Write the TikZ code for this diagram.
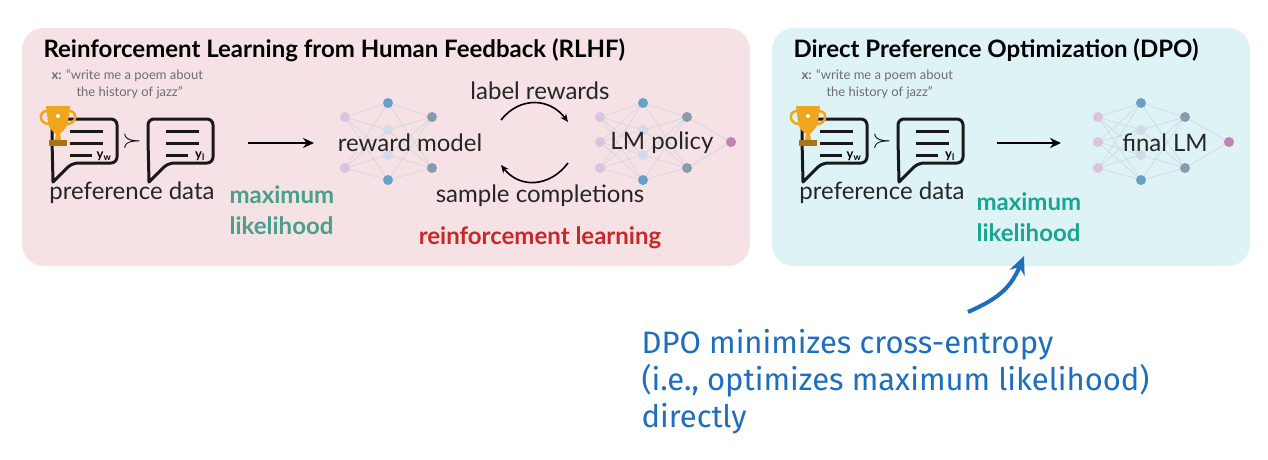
\documentclass[tikz,border=0pt]{standalone}
\usepackage{fontspec}
\setmainfont{Lato}
\newfontfamily\hand{Fira Sans}
\usetikzlibrary{arrows.meta}
\definecolor{rlbg}{RGB}{246,225,228}
\definecolor{dpobg}{RGB}{222,243,245}
\definecolor{teal1}{RGB}{72,160,140}
\definecolor{teal2}{RGB}{24,165,145}
\definecolor{rlred}{RGB}{200,40,40}
\definecolor{nbl}{RGB}{105,160,200}
\definecolor{ngr}{RGB}{135,155,175}
\definecolor{npu}{RGB}{218,195,220}
\definecolor{nli}{RGB}{212,218,232}
\definecolor{nout}{RGB}{195,130,180}
\definecolor{gtxt}{RGB}{110,110,110}
\definecolor{hblue}{RGB}{30,110,190}
\definecolor{troph}{RGB}{240,165,30}
\tikzset{
  box/.style={rounded corners=22pt},
  nd/.style={circle,inner sep=0pt,minimum size=10pt},
  edge/.style={draw=ngr!40,line width=0.6pt},
  bub/.style={line width=3pt,line join=round,draw=black!90},
  ln/.style={line width=3pt,draw=black!90},
  arr/.style={-{Stealth[length=11pt,width=10pt]},line width=2.2pt},
  lbl/.style={font=\fontsize{24}{26}\selectfont,text=black!85},
  small/.style={font=\fontsize{13}{15}\selectfont,text=gtxt,anchor=west},
}
\newcommand\mybubble[3]{% x offset, name, label
  \draw[bub] (#1+72,163) -- (#1+53,182) -- (#1+52,140) [rounded corners=6pt] -- (#1+52,119) -- (#1+117,119) -- (#1+117,163) -- cycle;
  \draw[ln] (#1+70,131) -- (#1+103,131);
  \draw[ln] (#1+70,143) -- (#1+103,143);
  \draw[ln] (#1+70,155) -- (#1+92,155);
  \node[font=\fontsize{13}{13}\selectfont\bfseries,inner sep=0pt] (#2) at (#1+104,156) {#3};
}
\newcommand\mytrophy[1]{%
  \begin{scope}[xshift=#1pt+6pt]
  \fill[troph] (40,106) -- (64,106) -- (62,122) .. controls (60,130) and (55,132) .. (54,134) -- (55,140) -- (49,140) -- (50,134) .. controls (48,132) and (43,130) .. (42,122) -- cycle;
  \draw[troph,line width=2.5pt] (41,111) .. controls (32,111) and (33,124) .. (43,124);
  \draw[troph,line width=2.5pt] (63,111) .. controls (72,111) and (71,124) .. (61,124);
  \fill[troph!70!black] (43,140) rectangle (61,146);
  \fill[white] (52,116) circle (2pt);
  \end{scope}
}
\begin{document}
\begin{tikzpicture}[x=1pt,y=-1pt]
\useasboundingbox (0,0) rectangle (1268,460);
\fill[white] (0,0) rectangle (1268,460);
% boxes
\fill[rlbg,box] (22,28) rectangle (750,266);
\fill[dpobg,box] (772,28) rectangle (1250,266);
\node[anchor=west,font=\fontsize{24}{26}\selectfont\bfseries] (t1) at (40,50) {Reinforcement Learning from Human Feedback (RLHF)};
\node[anchor=west,font=\fontsize{24}{26}\selectfont\bfseries] (t2) at (790,50) {Direct Preference Optimization (DPO)};
% prompts
\node[small] (x1) at (48,76) {\textbf{x:} ``write me a poem about};
\node[small] (x1b) at (73,93) {the history of jazz''};
\node[small] (x2) at (798,76) {\textbf{x:} ``write me a poem about};
\node[small] (x2b) at (823,93) {the history of jazz''};
% bubbles
\mybubble{0}{yw1}{y\textsubscript{w}}
\mybubble{96}{yl1}{y\textsubscript{l}}
\mybubble{750}{yw2}{y\textsubscript{w}}
\mybubble{846}{yl2}{y\textsubscript{l}}
\mytrophy{0}
\mytrophy{750}
\node[font=\fontsize{30}{30}\selectfont] (gt1) at (132,141) {$\succ$};
\node[font=\fontsize{30}{30}\selectfont] (gt2) at (882,141) {$\succ$};
% networks
\foreach \ox/\hasout/\nl in {0/0/2,255/1/3,753/1/3}{
  \begin{scope}[xshift=\ox pt]
  \ifnum\nl=3
    \foreach \a in {117,142,168} \foreach \b in {103,130,155,180} \draw[edge] (345,\a) -- (388,\b);
  \else
    \foreach \a in {117,168} \foreach \b in {103,130,155,180} \draw[edge] (345,\a) -- (388,\b);
  \fi
  \foreach \a in {103,130,155,180} \foreach \b in {117,168} \draw[edge] (388,\a) -- (432,\b);
  \ifnum\hasout=1
    \foreach \a in {117,168} \draw[edge] (432,\a) -- (476,142);
    \node[nd,fill=nout] at (476,142) {};
  \fi
  \node[nd,fill=npu] at (345,117) {};
  \node[nd,fill=npu] at (345,168) {};
  \ifnum\nl=3 \node[nd,fill=npu] at (345,142) {}; \fi
  \node[nd,fill=nbl] at (388,103) {};
  \node[nd,fill=nli] at (388,130) {};
  \node[nd,fill=nli] at (388,155) {};
  \node[nd,fill=nbl] at (388,180) {};
  \node[nd,fill=ngr] at (432,117) {};
  \node[nd,fill=ngr] at (432,168) {};
  \end{scope}
}
\node[lbl] (rm) at (410,143) {reward model};
\node[lbl] (lm) at (662,143) {LM policy};
\node[lbl] (flm) at (1165,143) {final LM};
\node[lbl] (lr) at (540,91) {label rewards};
\node[lbl] (sc) at (540,196) {sample completions};
\node[lbl] (pd1) at (132,193) {preference data};
\node[lbl] (pd2) at (882,193) {preference data};
\node[font=\fontsize{24}{31}\selectfont\bfseries,text=teal1,align=left,anchor=north west] (ml1) at (226,182) {maximum\\likelihood};
\node[font=\fontsize{24}{31}\selectfont\bfseries,text=teal2,align=left,anchor=north west] (ml2) at (973,189) {maximum\\likelihood};
\node[font=\fontsize{24}{26}\selectfont\bfseries,text=rlred] (rl) at (540,238) {reinforcement learning};
% arrows
\coordinate (a1s) at (248,143); \coordinate (a1e) at (314,143);
\draw[arr] (a1s) -- (a1e);
\coordinate (a2s) at (997,143); \coordinate (a2e) at (1061,143);
\draw[arr] (a2s) -- (a2e);
\coordinate (c1s) at (501,120); \coordinate (c1e) at (568,122);
\draw[-{Stealth[length=8pt,width=7pt]},line width=1.6pt] (c1s) .. controls (520,96) and (550,98) .. (c1e);
\coordinate (c2s) at (568,163); \coordinate (c2e) at (501,165);
\draw[-{Stealth[length=8pt,width=7pt]},line width=1.6pt] (c2s) .. controls (550,187) and (520,189) .. (c2e);
% DPO note
\coordinate (bs) at (968,312); \coordinate (be) at (1024,256);
\draw[hblue,line width=4pt,-{Stealth[length=18pt,width=16pt]}] (bs) .. controls (995,300) and (1010,290) .. (be);
\node[font=\hand\fontsize{31}{37}\selectfont,text=hblue,align=left,anchor=north west] (note) at (638,326) {DPO minimizes cross-entropy\\(i.e., optimizes maximum likelihood)\\directly};
\end{tikzpicture}
\end{document}
